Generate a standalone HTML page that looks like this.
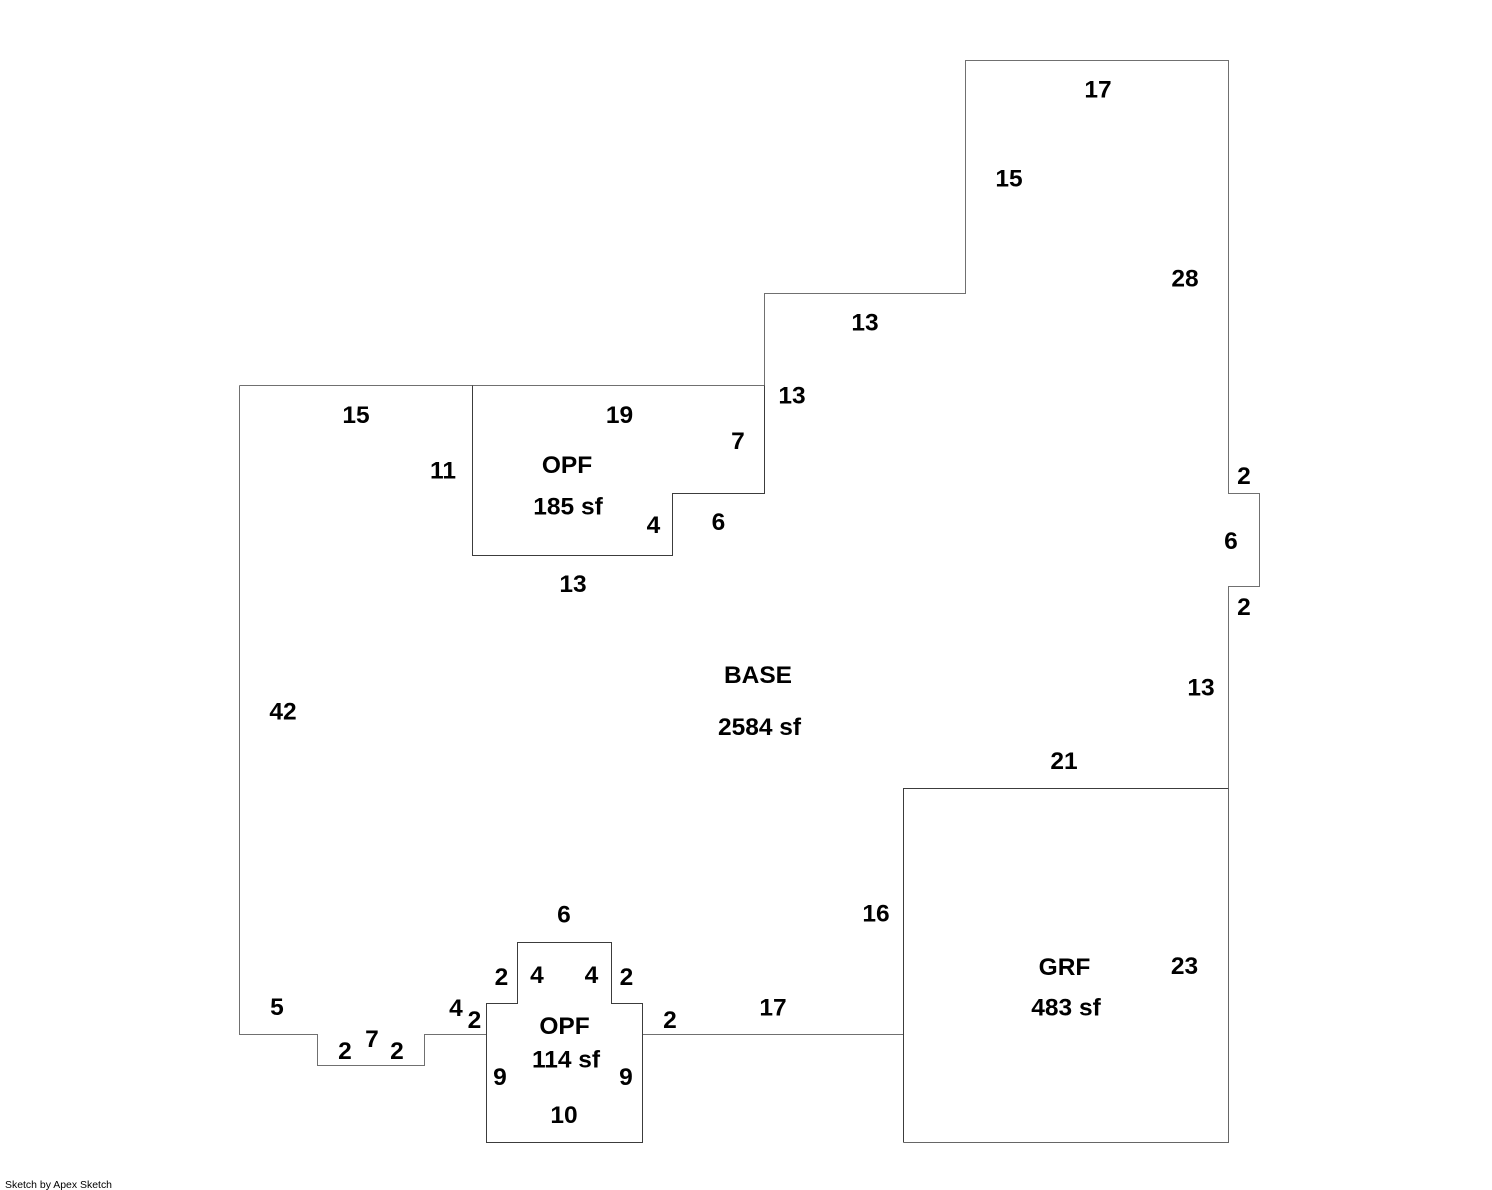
<!DOCTYPE html>
<html>
<head>
<meta charset="utf-8">
<style>
  html, body { margin: 0; padding: 0; background: #fff; }
  body { width: 1492px; height: 1190px; overflow: hidden; }
  svg { display: block; }
  .t { font-family: "Liberation Sans", Arial, sans-serif; font-weight: bold; font-size: 24.5px; fill: #000; text-anchor: middle; }
  .f { font-family: "Liberation Sans", Arial, sans-serif; font-size: 10.5px; fill: #000; }
</style>
</head>
<body>
<svg width="1492" height="1190" viewBox="0 0 1492 1190" xmlns="http://www.w3.org/2000/svg">
  <rect width="1492" height="1190" fill="#fff"/>
  <g fill="none" stroke-width="1" shape-rendering="crispEdges">
    <path stroke="#707070" d="M239.5,385.5 H764.5 V293.5 H965.5 V60.5 H1228.5 V493.5 H1259.5 V586.5 H1228.5 V788.5"/>
    <path stroke="#707070" d="M903.5,1034.5 H642.5"/>
    <path stroke="#707070" d="M486.5,1034.5 H424.5 V1065.5 H317.5 V1034.5 H239.5 V385.5"/>
    <path stroke="#3c3c3c" d="M903.5,1142.5 V788.5 H1228.5"/>
    <path stroke="#666" d="M1228.5,788.5 V1142.5 H903.5"/>
    <path stroke="#3c3c3c" d="M472.5,385.5 V555.5 H672.5 V493.5 H764.5 V385.5"/>
    <path stroke="#3c3c3c" d="M486.5,1034.5 V1142.5 H642.5 V1003.5 H611.5 V942.5 H517.5 V1003.5 H486.5 Z"/>
  </g>

  <text class="t" x="1098" y="97.5">17</text>
  <text class="t" x="1009" y="186.5">15</text>
  <text class="t" x="1185" y="286.5">28</text>
  <text class="t" x="865" y="330.5">13</text>
  <text class="t" x="792" y="403.5">13</text>
  <text class="t" x="1244" y="484">2</text>
  <text class="t" x="1231" y="549">6</text>
  <text class="t" x="1244" y="615">2</text>
  <text class="t" x="1201" y="695.5">13</text>

  <text class="t" x="356" y="423">15</text>
  <text class="t" x="619.5" y="423">19</text>
  <text class="t" x="738" y="449">7</text>
  <text class="t" x="443" y="478.5">11</text>
  <text class="t" x="567" y="473">OPF</text>
  <text class="t" x="568" y="514.5">185 sf</text>
  <text class="t" x="653.5" y="533">4</text>
  <text class="t" x="718.5" y="530">6</text>
  <text class="t" x="573" y="592">13</text>

  <text class="t" x="758" y="683">BASE</text>
  <text class="t" x="759.5" y="735">2584 sf</text>
  <text class="t" x="283" y="719.5">42</text>

  <text class="t" x="1064" y="769">21</text>
  <text class="t" x="876" y="921.5">16</text>
  <text class="t" x="1064.5" y="975">GRF</text>
  <text class="t" x="1184.5" y="974">23</text>
  <text class="t" x="1066" y="1015.5">483 sf</text>

  <text class="t" x="564" y="922.5">6</text>
  <text class="t" x="501.5" y="985">2</text>
  <text class="t" x="537" y="983">4</text>
  <text class="t" x="591.5" y="983">4</text>
  <text class="t" x="626.5" y="985">2</text>
  <text class="t" x="277" y="1015">5</text>
  <text class="t" x="456" y="1016">4</text>
  <text class="t" x="474.5" y="1028">2</text>
  <text class="t" x="670" y="1028">2</text>
  <text class="t" x="773" y="1015.5">17</text>
  <text class="t" x="345" y="1059">2</text>
  <text class="t" x="372" y="1047">7</text>
  <text class="t" x="397" y="1059">2</text>
  <text class="t" x="564.5" y="1034">OPF</text>
  <text class="t" x="566" y="1067.5">114 sf</text>
  <text class="t" x="500" y="1085">9</text>
  <text class="t" x="626" y="1085">9</text>
  <text class="t" x="564" y="1123">10</text>

  <text class="f" x="5" y="1188" textLength="107" lengthAdjust="spacingAndGlyphs">Sketch by Apex Sketch</text>
</svg>
</body>
</html>
